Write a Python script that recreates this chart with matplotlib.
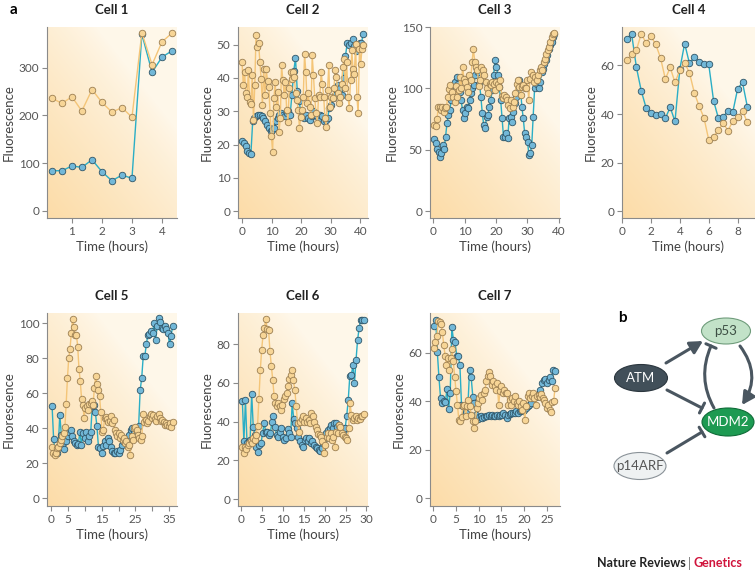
import numpy as np
import matplotlib
matplotlib.use("Agg")
import matplotlib.pyplot as plt
from matplotlib.patches import Ellipse, FancyArrowPatch

plt.rcParams['font.family'] = ['Lato', 'DejaVu Sans']

# ---- data (fluorescence, arbitrary units) ----
cell1_time = [0.33, 0.67, 1.0, 1.33, 1.67, 2.0, 2.33, 2.67, 3.0, 3.33, 3.67, 4.0, 4.33]
cell1_blue = [84, 84, 94, 91, 107, 82, 63, 75, 68, 370, 290, 322, 335]
cell1_orange = [236, 225, 239, 209, 254, 227, 207, 216, 196, 373, 306, 354, 372]

cell2_span = (0.0, 41.0)
cell2_blue = [21, 20.5, 19.5, 18, 17.5, 17.3, 27, 28, 28.5, 29, 29, 28.5, 28, 27, 26, 25,
              24, 24.5, 25, 27, 28, 29, 29.5, 29, 28.5, 29.5, 30, 29, 35, 42, 46, 36, 33,
              30, 28.5, 28, 29, 28, 27.5, 28.5, 30, 29, 28.5, 28, 29, 28.5, 27, 27.5, 28,
              31, 32, 34, 35, 36.5, 38, 37, 35, 40, 46.5, 50.5, 50, 50.5, 51.8, 49.5, 48,
              49, 50.5, 50.5, 53.3]
cell2_orange = [44.8, 38, 41.8, 35.5, 34.3, 42.3, 32.9, 32.2, 40.8, 27.4, 37.8, 53, 49.3,
                50.6, 44.8, 39.8, 31.9, 42.8, 34.9, 42.6, 39.1, 37.2, 29.4, 22.6, 17.9,
                33.9, 38.8, 31.4, 35.9, 23.9, 27.9, 43.8, 39.3, 34.9, 38.8, 30.4, 26.9,
                36.9, 41.8, 39.6, 41.8, 40.3, 35.4, 33.4, 30.4, 25.1, 28.2, 30.4, 34.4,
                47.3, 41.8, 32.4, 35.4, 31.4, 28.9, 46.8, 40.8, 33.9, 29.4, 26.6, 34.9,
                34.4, 41.8, 38.3, 34.4, 27.9, 25.4, 36.4, 43.8, 31.4, 34.4, 33.9, 36.9,
                42.3, 40.3, 35.4, 32.4, 34.4, 38.3, 43.3, 45.8, 36.9, 44.8, 34.4, 30.9,
                39.3, 48.3, 42.8, 41.3, 50.3, 34.4, 29.4, 48.8, 44.3, 48.8, 49.8]

cell3_span = (0.3, 38.6)
cell3_blue = [58.6, 56, 50.5, 48.6, 44.6, 47.3, 54, 50.5, 60.8, 71.6, 78.4, 82.4, 90.5,
              96.5, 102.7, 105.4, 109, 104, 97.3, 90.5, 82.4, 75.7, 79.7, 85, 83.8, 90.5,
              96, 100, 102.7, 110.8, 116, 113.5, 104, 93, 79.7, 70.3, 67.6, 77, 78.4, 85,
              90.5, 98.6, 110.8, 123, 117.6, 110.8, 101, 90.5, 75.7, 60.8, 60.8, 63.5,
              59.5, 75.7, 77, 73, 81, 87.8, 93.2, 98.6, 106.8, 100.8, 85, 75.7, 63.5,
              60.8, 56.8, 46, 47.3, 54, 77, 100, 106.8, 104, 100, 105.4, 113.5, 116,
              120.3, 123, 127, 132.4, 135, 137.8, 141.9, 144.6]
cell3_orange = [70.3, 69.5, 74.9, 85, 84.6, 82.4, 84.6, 81, 83.8, 84.6, 93.2, 99.2, 102.7,
                97.3, 93.2, 89.2, 101.9, 93.2, 98.6, 109.5, 100, 117.6, 108, 105.4, 101.4,
                97.3, 110.8, 106.8, 121.6, 132.4, 121.6, 117.6, 114.9, 101.9, 106.8, 117.6,
                114.9, 110.8, 105.4, 100, 96, 104, 102.7, 105.4, 104, 98.6, 105.4, 104,
                101.4, 106.8, 93.8, 91.9, 94.6, 93.2, 90.5, 86.5, 83.8, 90.5, 85, 89.2, 96,
                104, 106.8, 101.4, 94.6, 101.4, 102.7, 100, 100, 106.8, 90.5, 108, 113.5,
                110.8, 105.4, 109.5, 106.8, 110.8, 114.9, 117.6, 114.9, 121.6, 124.3,
                128.4, 131, 133.8, 137.8, 141.9, 144.6, 145]

cell4_span = (0.33, 8.67)
cell4_blue = [71, 73, 59.2, 49.6, 42.6, 40.3, 39.6, 40, 38.3, 42.8, 37, 58.5, 69, 60.8,
              63.3, 61.5, 60.4, 60.4, 45.5, 38.3, 39, 41.3, 41, 50.5, 53, 43]
cell4_orange = [62.2, 64.5, 66.3, 73, 69.3, 72, 68.7, 63.1, 54.4, 59.2, 53, 58.1, 61.1,
                57, 48.8, 43.3, 38.5, 29.4, 30.7, 33.5, 36.2, 33.2, 37.2, 38.7, 41.4, 36.6]

cell5_span = (0.3, 36.0)
cell5_blue = [53, 34, 25.8, 26.2, 29.6, 47.8, 36.3, 31.5, 28.1, 32.5, 35.4, 38.2, 39.2,
              35.4, 32.5, 31.9, 30.6, 31.2, 37.7, 30.6, 37.3, 34.4, 37.7, 32.5, 35.4, 37.7,
              52.6, 53.5, 49.1, 41.5, 29.6, 28.7, 26.2, 30, 32.5, 30.6, 34.4, 32.5, 29.6,
              26.8, 25.8, 25.8, 26.8, 25.8, 27.7, 30.6, 32.5, 33.5, 32.5, 34.4, 36.3, 39.2,
              40.2, 37.3, 35.4, 37.3, 41.1, 61.8, 68.8, 81.3, 81.3, 88, 93.7, 94.1, 95.6,
              94.6, 100, 90.8, 98.5, 103.3, 100.8, 97.5, 96.6, 98.5, 96.6, 94.6, 88, 92.7,
              98.5]
cell5_orange = [29.3, 25.8, 24.9, 26.2, 28.7, 29.6, 31.5, 33.5, 35.4, 37.3, 40.7, 54.1,
                68.8, 80.3, 85.5, 94.3, 102.7, 98.1, 93.3, 93.7, 86.6, 74, 66.9, 57, 53.5,
                45.9, 51.6, 52.6, 50.3, 54.1, 54.5, 55.4, 53.5, 63.1, 69.8, 65.4, 62.1, 58.7,
                49.1, 38.2, 39.2, 45.9, 46.5, 45.3, 43.4, 44, 46.8, 43, 44.9, 39.2, 37.3,
                35.4, 37.3, 34.4, 36.3, 33.5, 34.4, 31.5, 32.5, 29.6, 30.6, 24.5, 35.8, 33.5,
                40.2, 40.7, 39.2, 36.3, 34.4, 33.5, 35.4, 48.4, 43.6, 44.9, 43, 44, 46.8,
                48.4, 45.9, 47.8, 45.3, 44, 46.8, 48.4, 45.9, 44, 44.6, 43.4, 42.1, 43, 42.1,
                41.1, 43, 40.7, 43.4]

cell6_span = (0.24, 29.4)
cell6_blue = [50.7, 29.7, 51.2, 29.1, 29.7, 30.5, 54.3, 37.4, 33.1, 27.1, 24.5, 27.9, 28.8,
              34, 39.1, 34.8, 34.8, 33.1, 34, 40, 42.6, 37.4, 33.1, 32.2, 34.8, 36.6, 32.2,
              30.5, 31.4, 36, 34, 32.2, 49.5, 41.2, 39.1, 36.6, 32.2, 29.7, 27.9, 26.7,
              30.5, 31.4, 29.7, 31.4, 28.8, 29.7, 27.9, 27.1, 26.2, 25.3, 24.8, 26.2, 28.8,
              31.4, 34, 35.7, 36.6, 38.3, 36.6, 39.1, 39.1, 37.4, 38.3, 37.4, 36.6, 35.7,
              36.6, 42.9, 51.2, 63.6, 63.8, 69.3, 59.8, 71.9, 82.2, 88.3, 92.6, 92.6, 92.2]
cell6_orange = [27.1, 23.6, 26.7, 25.7, 27.9, 28.8, 29.7, 28.8, 31.4, 30.5, 33.1, 37.8,
                51.6, 66.4, 77.1, 84.8, 88.3, 92.9, 87.8, 87.4, 76.2, 68.8, 61.6, 53.3, 49.5,
                47.8, 49.5, 47.8, 46, 48.6, 51.6, 53.3, 54.7, 58.1, 61.9, 64.1, 66.7, 61.2,
                56.4, 48.1, 39.1, 34.8, 40, 41.2, 42.6, 40, 41.7, 39.5, 40.9, 39.1, 44.3,
                42.6, 40, 37.4, 35.7, 33.6, 33.1, 32.2, 29.7, 23.6, 27.9, 32.2, 34, 31.4, 34,
                30.5, 32.2, 27.1, 34.8, 34, 38.3, 37.4, 34.3, 33.1, 32.2, 31.4, 30.5, 36.6,
                49.8, 43.4, 40.9, 41.7, 42.6, 40.9, 41.7, 41.2, 42.6, 42.9, 44]

cell7_span = (0.2, 26.8)
cell7_blue = [71, 73.8, 60.4, 50, 41.4, 39.3, 40, 39.6, 45.1, 36.8, 43.4, 70.8, 65.5, 64.4,
              58.9, 58.6, 55.2, 38.6, 38.2, 35.4, 35.2, 38.6, 52.8, 50, 42, 39.3, 34.5,
              32.7, 33.4, 34.1, 33.1, 33.5, 33.8, 34.1, 34.5, 33.8, 34.5, 34.1, 33.8, 34.5,
              34.1, 34.5, 34.5, 35.2, 34.5, 33.1, 34.5, 34.9, 35.4, 35.2, 35.4, 35.9, 35.4,
              35.9, 36.3, 35.9, 36.6, 37.2, 37.9, 38.6, 39.3, 41.4, 42.3, 41.8, 42.3, 43.2,
              44.8, 47.6, 49, 49.2, 47.6, 49, 50, 48.3, 53.1, 52.4]
cell7_orange = [62.1, 64.4, 66.9, 73.1, 72.7, 72, 68.6, 63.4, 58.9, 55.2, 57.9, 53.1, 57.9,
                61.7, 56.6, 50, 44.1, 38.6, 32.4, 31.7, 33.4, 37.9, 38.6, 33.8, 37.9, 40.7,
                37.9, 34.5, 31.7, 29, 31.7, 37.2, 39.3, 41.4, 42.8, 40.7, 43.4, 44.8, 48.3,
                50.3, 52, 50.6, 46.9, 48.3, 46.2, 44.8, 47.6, 38.6, 44.1, 46.2, 43.4, 44.8,
                43.4, 43.4, 38.6, 40.7, 38.6, 41.4, 40, 42.1, 39.3, 38.6, 40, 37.9, 36.6,
                39.3, 32.4, 37.9, 42.1, 43.4, 41.4, 42.1, 43.4, 41.4, 38.6, 42.1, 42.8, 41.8,
                43.2, 41.4, 40.7, 39.3, 37.2, 38.6, 36.6, 35.7, 39.6, 40, 45.5]

# ---- styling ----
W, H = 755, 574
BLUE_LINE, BLUE_FACE, BLUE_EDGE = '#2aaec6', '#72b8d8', '#2f5568'
ORANGE_LINE, ORANGE_FACE, ORANGE_EDGE = '#f4c578', '#f7d596', '#9c7f52'
ARROW = '#4a5660'

fig = plt.figure(figsize=(W / 100, H / 100), dpi=100)

# overlay axes in pixel coordinates for labels and the network diagram
ov = fig.add_axes([0, 0, 1, 1])
ov.set_xlim(0, W)
ov.set_ylim(H, 0)
ov.axis('off')


def px_rect(left, top, right, bottom):
    return [left / W, 1 - bottom / H, (right - left) / W, (bottom - top) / H]


def paint_background(ax):
    xx, yy = np.meshgrid(np.linspace(0, 1, 120), np.linspace(0, 1, 120))
    w = np.clip(1 - 0.65 * xx - 0.75 * yy, 0, 1) ** 0.8
    w = 0.15 + 0.85 * w
    orange = np.array([252, 220, 168]) / 255
    white = np.array([255, 252, 245]) / 255
    img = white[None, None, :] * (1 - w[..., None]) + orange[None, None, :] * w[..., None]
    ax.imshow(img, extent=[0, 1, 0, 1], transform=ax.transAxes, origin='lower',
              aspect='auto', zorder=0, interpolation='bilinear')


def draw_cell(rect, title, tb, vb, to, vo, xlim, ylim, xticks, yticks, xlabels=None):
    ax = fig.add_axes(rect)
    paint_background(ax)
    ax.plot(tb, vb, '-', color=BLUE_LINE, lw=1.0, zorder=2)
    ax.plot(tb, vb, 'o', ms=4.7, mfc=BLUE_FACE, mec=BLUE_EDGE, mew=0.6, zorder=3)
    ax.plot(to, vo, '-', color=ORANGE_LINE, lw=1.0, zorder=4)
    ax.plot(to, vo, 'o', ms=4.7, mfc=ORANGE_FACE, mec=ORANGE_EDGE, mew=0.6, zorder=5)
    ax.set_xlim(*xlim)
    ax.set_ylim(*ylim)
    ax.set_xticks(xticks)
    if xlabels is not None:
        ax.set_xticklabels(xlabels)
    ax.set_yticks(yticks)
    for s in ['top', 'right']:
        ax.spines[s].set_visible(False)
    for s in ['left', 'bottom']:
        ax.spines[s].set_color('#8a8a8a')
        ax.spines[s].set_linewidth(0.8)
    ax.tick_params(direction='out', length=3.5, width=0.8, color='#8a8a8a',
                   labelcolor='#555555', labelsize=8.5, pad=2)
    ax.set_xlabel('Time (hours)', fontsize=9.5, color='#444444', labelpad=3)
    ax.set_ylabel('Fluorescence', fontsize=9.5, color='#444444', labelpad=3)
    ax.set_title(title, fontsize=9.5, fontweight='bold', color='#222222', pad=9)
    return ax


def span(s, values):
    return np.linspace(s[0], s[1], len(values))


top_row = (27, 218)
bot_row = (313, 506)

draw_cell(px_rect(47, top_row[0], 177, top_row[1]), 'Cell 1',
          cell1_time, cell1_blue, cell1_time, cell1_orange,
          (0.17, 4.5), (-15, 385), [1, 2, 3, 4], [0, 100, 200, 300])
draw_cell(px_rect(238, top_row[0], 368, top_row[1]), 'Cell 2',
          span(cell2_span, cell2_blue), cell2_blue, span(cell2_span, cell2_orange), cell2_orange,
          (-1.35, 42.6), (-2, 55.3), [0, 10, 20, 30, 40], [0, 10, 20, 30, 40, 50])
draw_cell(px_rect(430, top_row[0], 560, top_row[1]), 'Cell 3',
          span(cell3_span, cell3_blue), cell3_blue, span(cell3_span, cell3_orange), cell3_orange,
          (-1.06, 40.4), (-5.4, 150), [0, 10, 20, 30, 40], [0, 50, 100, 150])
draw_cell(px_rect(622, top_row[0], 755, top_row[1]), 'Cell 4',
          span(cell4_span, cell4_blue), cell4_blue, span(cell4_span, cell4_orange), cell4_orange,
          (0, 9.2), (-2.7, 75.8), [0, 2, 4, 6, 8], [0, 20, 40, 60])
draw_cell(px_rect(47, bot_row[0], 177, bot_row[1]), 'Cell 5',
          span(cell5_span, cell5_blue), cell5_blue, span(cell5_span, cell5_orange), cell5_orange,
          (-1.2, 37.3), (-4.4, 106), [0, 5, 10, 15, 20, 25, 30, 35], [0, 20, 40, 60, 80, 100],
          xlabels=['0', '5', '', '15', '', '25', '', '35'])
draw_cell(px_rect(238, bot_row[0], 368, bot_row[1]), 'Cell 6',
          span(cell6_span, cell6_blue), cell6_blue, span(cell6_span, cell6_orange), cell6_orange,
          (-0.8, 30.4), (-3.6, 96), [0, 5, 10, 15, 20, 25, 30], [0, 20, 40, 60, 80])
draw_cell(px_rect(430, bot_row[0], 560, bot_row[1]), 'Cell 7',
          span(cell7_span, cell7_blue), cell7_blue, span(cell7_span, cell7_orange), cell7_orange,
          (-0.7, 27.9), (-3.2, 76.5), [0, 5, 10, 15, 20, 25], [0, 20, 40, 60])

# panel letters
ov.text(10, 10, 'a', fontsize=11, fontweight='bold', va='center', ha='left')
ov.text(622, 318, 'b', fontsize=11, fontweight='bold', va='center', ha='center')

# ---- network diagram ----
nodes = {
    'p53': ((726, 331), 49, 26, '#c2e2c8', '#6f9c7b', '#3d4f44'),
    'ATM': ((641, 378), 53, 27, '#414f59', '#2b363e', 'white'),
    'MDM2': ((728, 422), 52, 28, '#1d9a52', '#0f6c38', 'white'),
    'p14ARF': ((640, 466), 52, 27, '#eef1f2', '#8a9298', '#555555'),
}
for name, (c, w, h, fc, ec, tc) in nodes.items():
    ov.add_patch(Ellipse(c, w, h, facecolor=fc, edgecolor=ec, lw=0.8, zorder=3))
    ov.text(c[0], c[1], name, fontsize=9.5, color=tc, ha='center', va='center', zorder=4)

arrow_kw = dict(color=ARROW, lw=2.2, shrinkA=0, shrinkB=0, zorder=2, mutation_scale=10)
head = '-|>,head_length=0.75,head_width=0.4'
bar = '-[,widthB=0.4,lengthB=0'
ov.add_patch(FancyArrowPatch((666, 363), (703, 341), arrowstyle=head, **arrow_kw))
ov.add_patch(FancyArrowPatch((667, 390), (702, 408), arrowstyle=bar, **arrow_kw))
ov.add_patch(FancyArrowPatch((667, 453), (702, 432), arrowstyle=bar, **arrow_kw))
ov.add_patch(FancyArrowPatch((714, 408), (711, 346), connectionstyle='arc3,rad=-0.25',
                             arrowstyle=bar, **arrow_kw))
ov.add_patch(FancyArrowPatch((740, 346), (742, 405), connectionstyle='arc3,rad=-0.35',
                             arrowstyle=head, **arrow_kw))

# footer
ov.text(686, 563, 'Nature Reviews', fontsize=9, fontweight='bold', color='#222222',
        ha='right', va='center')
ov.text(689.5, 563, '|', fontsize=9, color='#777777', ha='center', va='center')
ov.text(693, 563, 'Genetics', fontsize=9, fontweight='bold', color='#d0143c',
        ha='left', va='center')

fig.savefig('out.png', dpi=100)
